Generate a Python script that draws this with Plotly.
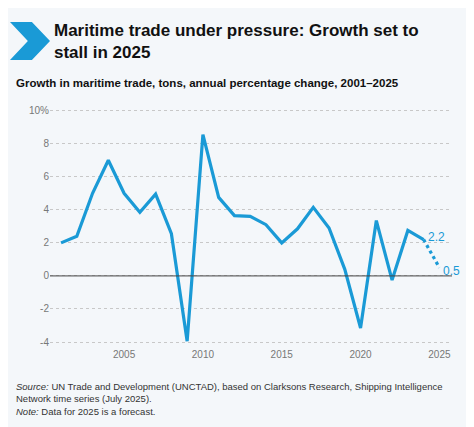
import plotly.graph_objects as go

years = list(range(2001, 2026))
growth = [2.0, 2.4, 5.0, 7.0, 5.0, 3.85, 4.95, 2.55, -3.95, 8.55, 4.75, 3.65, 3.6,
          3.1, 2.0, 2.85, 4.15, 2.9, 0.4, -3.15, 3.35, -0.25, 2.75, 2.2, 0.5]
tick_vals = [-4, -2, 0, 2, 4, 6, 8, 10]
tick_text = ['-4', '-2', '0', '2', '4', '6', '8', '10%']
blue = '#1a9ad6'

fig = go.Figure()
fig.add_trace(go.Scatter(x=years[:-1], y=growth[:-1], mode='lines',
                         line=dict(color=blue, width=3.2), hoverinfo='skip'))
fig.add_trace(go.Scatter(x=years[-2:], y=growth[-2:], mode='lines',
                         line=dict(color=blue, width=3.2, dash='dot'), hoverinfo='skip'))
fig.add_annotation(x=years[-2], y=growth[-2], text=str(growth[-2]), showarrow=False,
                   xanchor='left', xshift=2, yshift=3, font=dict(color=blue, size=12))
fig.add_annotation(x=years[-1], y=growth[-1], text=str(growth[-1]), showarrow=False,
                   xanchor='left', xshift=2, yshift=-3, font=dict(color=blue, size=12))
fig.add_hline(y=0, line=dict(color='#444', width=1))

# header chevron
fig.add_shape(type='path', xref='paper', yref='paper',
              path='M -0.0995 1.337 L -0.045 1.337 L 0.0 1.259 L -0.045 1.181 L -0.0995 1.181 L -0.055 1.259 Z',
              fillcolor=blue, line_width=0)
fig.add_annotation(xref='paper', yref='paper', x=0.005, y=1.35, xanchor='left', yanchor='top',
                   align='left', showarrow=False,
                   text='<b>Maritime trade under pressure: Growth set to<br>stall in 2025</b>',
                   font=dict(size=17, color='#111'))
fig.add_annotation(xref='paper', yref='paper', x=-0.09, y=1.118, xanchor='left', yanchor='top',
                   showarrow=False,
                   text='<b>Growth in maritime trade, tons, annual percentage change, 2001–2025</b>',
                   font=dict(size=11.5, color='#111'))
fig.add_annotation(xref='paper', yref='paper', x=-0.09, y=-0.13, xanchor='left', yanchor='top',
                   align='left', showarrow=False,
                   text='<i>Source:</i> UN Trade and Development (UNCTAD), based on Clarksons Research, Shipping Intelligence<br>'
                        'Network time series (July 2025).<br><i>Note:</i> Data for 2025 is a forecast.',
                   font=dict(size=9.5, color='#333'))

fig.update_layout(
    width=474, height=427, showlegend=False,
    margin=dict(l=42, r=30, t=96, b=88),
    paper_bgcolor='#f4f7fa', plot_bgcolor='#f4f7fa',
    font=dict(family='Liberation Sans, Arial, sans-serif', color='#777', size=10),
    xaxis=dict(range=[2000.3, 2025.8], tickvals=[2005, 2010, 2015, 2020, 2025],
               showgrid=False, zeroline=False, ticks=''),
    yaxis=dict(range=[-4.3, 10.4], tickvals=tick_vals, ticktext=tick_text,
               gridcolor='#c8c8c8', griddash='dot', zeroline=False, ticks=''),
)
fig.write_html('out.html')
